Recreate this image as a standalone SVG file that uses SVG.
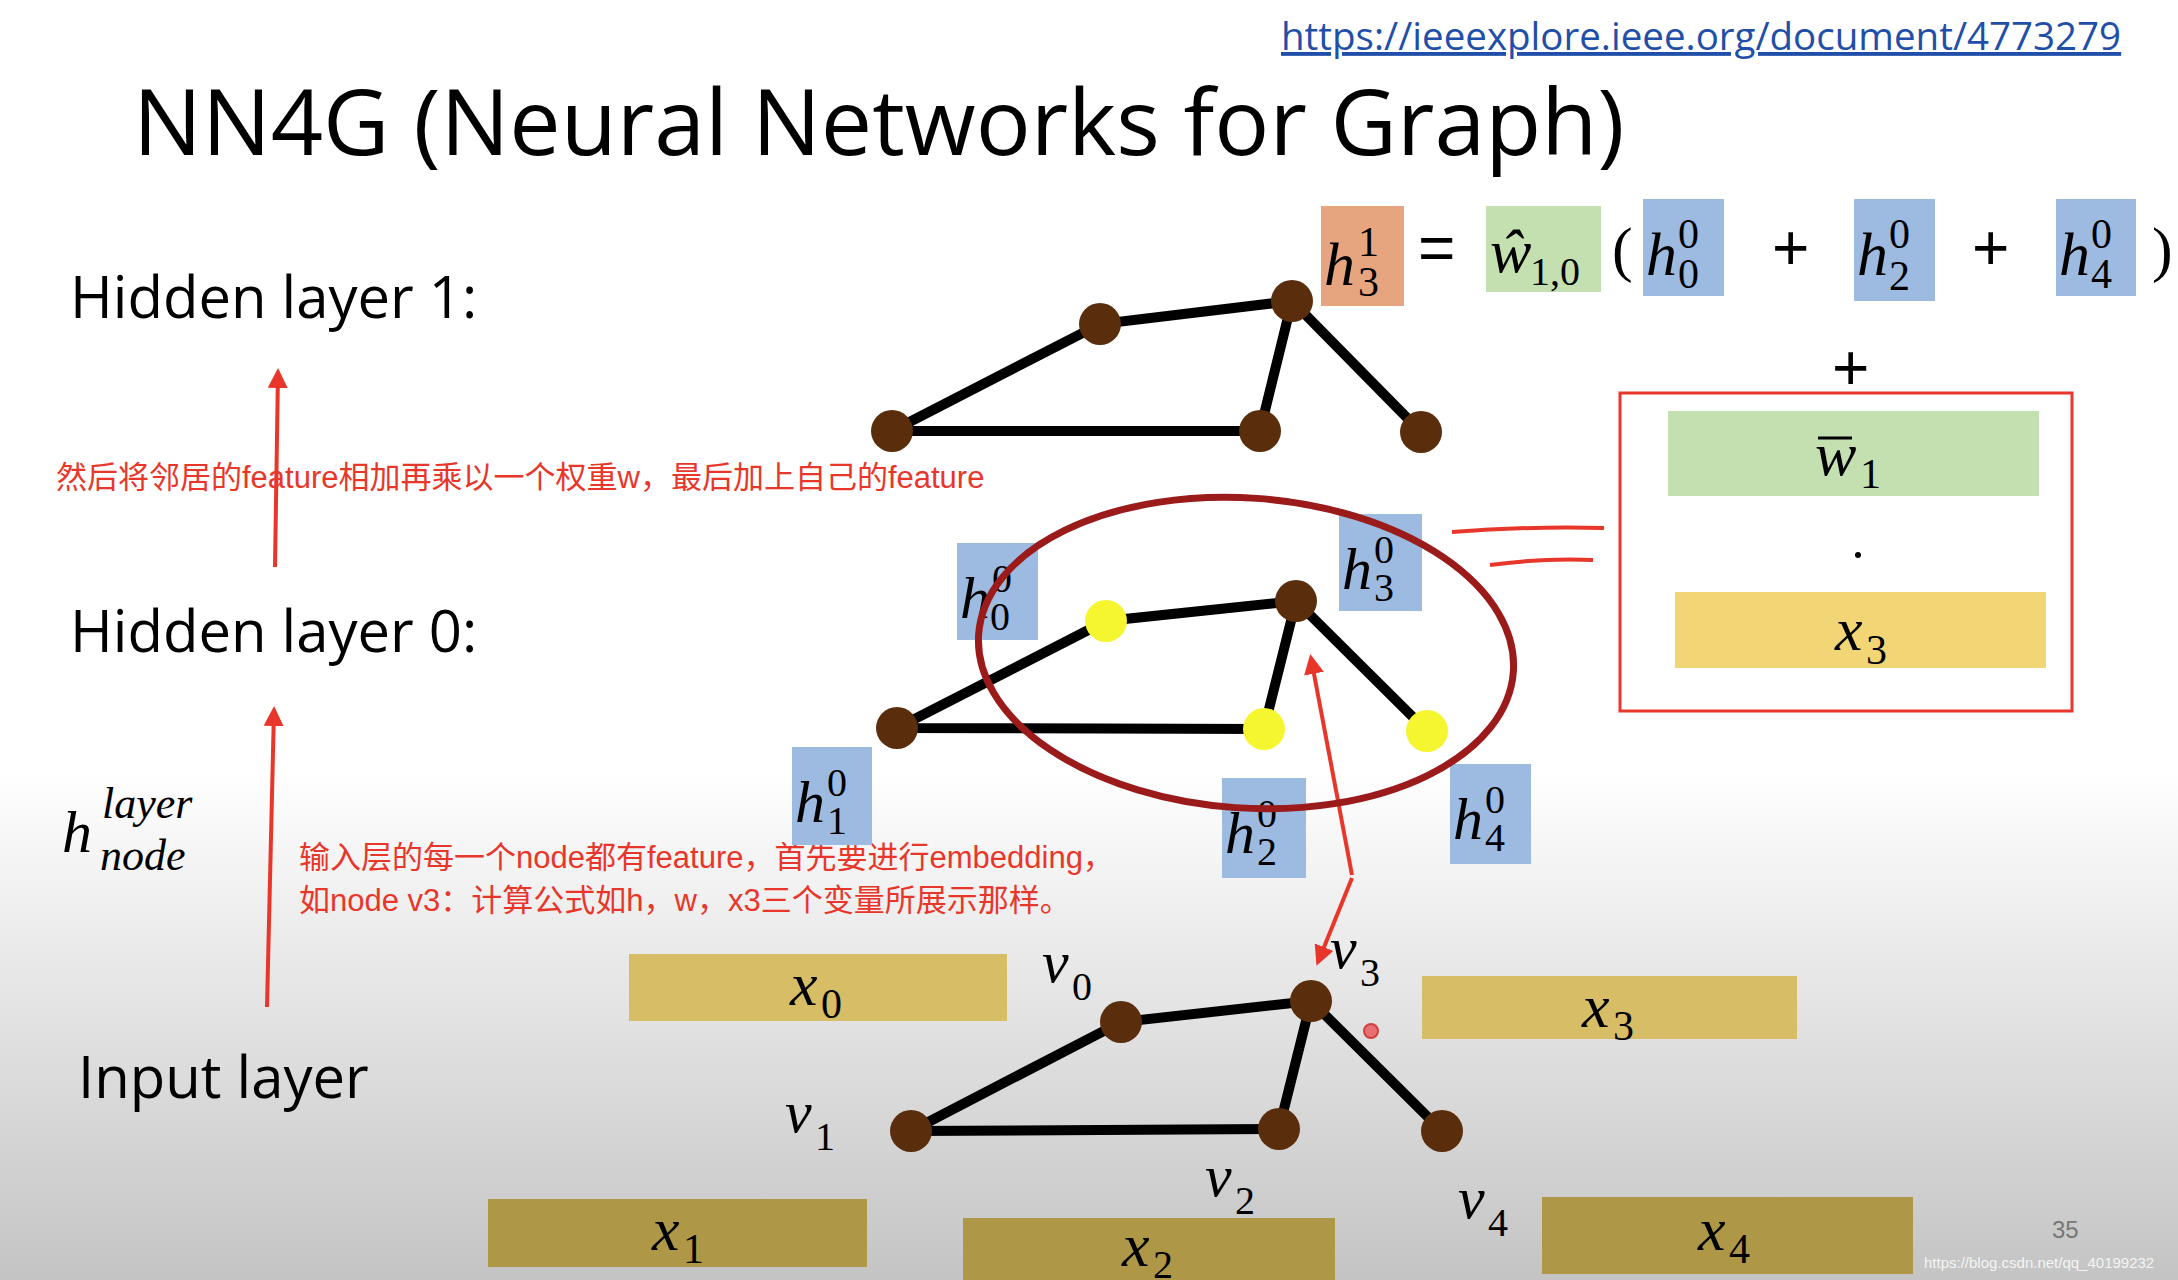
<svg xmlns="http://www.w3.org/2000/svg" width="2178" height="1280" viewBox="0 0 2178 1280">
<defs>
<linearGradient id="bg" x1="0" y1="0" x2="0" y2="1">
<stop offset="0" stop-color="#ffffff"/><stop offset="0.6" stop-color="#ffffff"/><stop offset="1" stop-color="#c4c4c4"/>
</linearGradient>
<marker id="ah" viewBox="0 0 10 10" refX="8" refY="5" markerWidth="5" markerHeight="5" orient="auto"><path d="M0,0L10,5L0,10z" fill="#e8372a"/></marker>
<style>
.lbl{font-family:"Open Sans","Liberation Sans",sans-serif;fill:#000}
.m{font-family:"Liberation Serif",serif;font-style:italic;fill:#000}
.d{font-family:"Liberation Serif",serif;fill:#000}
.red{font-family:"Liberation Sans","Noto Sans CJK SC",sans-serif;fill:#e8372a;font-size:31px}
.edge{stroke:#000;stroke-width:10;fill:none}
.nd{fill:#5a2d0c}
.yl{fill:#f5f530}
.blue{fill:#9dbbe0}
.arr{stroke:#e8372a;stroke-width:4;fill:none}
</style>
</defs>
<rect width="2178" height="1280" fill="url(#bg)"/>
<text x="1281" y="50" font-family="Open Sans,Liberation Sans,sans-serif" font-size="38.5" fill="#1f4fa8" text-decoration="underline">https://ieeexplore.ieee.org/document/4773279</text>
<text x="133" y="155" class="lbl" font-size="91.5">NN4G (Neural Networks for Graph)</text>
<text x="70" y="318" class="lbl" font-size="58">Hidden layer 1:</text>
<text x="70" y="652" class="lbl" font-size="58">Hidden layer 0:</text>
<text x="78" y="1098" class="lbl" font-size="58">Input layer</text>
<g id="hlayer"><text x="62" y="852" class="m" font-size="60">h</text><text x="102" y="818" class="m" font-size="44">layer</text><text x="100" y="870" class="m" font-size="44">node</text></g>
<g id="connectors">
<line x1="275" y1="567" x2="278" y2="372" class="arr" marker-end="url(#ah)"/>
<line x1="267" y1="1007" x2="274" y2="710" class="arr" marker-end="url(#ah)"/>
<line x1="1352" y1="875" x2="1311" y2="658" class="arr" marker-end="url(#ah)"/>
<line x1="1352" y1="878" x2="1318" y2="962" class="arr" marker-end="url(#ah)"/>
<path d="M1452,532 Q1530,526 1604,528" class="arr" stroke-width="3"/>
<path d="M1490,565 Q1540,558 1593,560" class="arr" stroke-width="3"/>
</g>
<text x="56" y="488" class="red">然后将邻居的feature相加再乘以一个权重w，最后加上自己的feature</text>
<text x="299" y="868" class="red">输入层的每一个node都有feature，首先要进行embedding，</text>
<text x="299" y="911" class="red">如node v3：计算公式如h，w，x3三个变量所展示那样。</text>
<g id="graph1">
<path d="M892,431 L1100,324 L1292,301 L1260,431 Z M892,431 L1260,431 M1292,301 L1421,432" class="edge"/>
<circle cx="892" cy="431" r="21" class="nd"/><circle cx="1100" cy="324" r="21" class="nd"/><circle cx="1292" cy="301" r="21" class="nd"/><circle cx="1260" cy="431" r="21" class="nd"/><circle cx="1421" cy="432" r="21" class="nd"/>
</g>
<g id="labels0">
<rect x="957" y="543" width="81" height="97" class="blue"/><text x="960" y="618" class="m" font-size="60">h</text><text x="992" y="592" class="d" font-size="40">0</text><text x="990" y="630" class="d" font-size="40">0</text>
<rect x="1339" y="514" width="83" height="97" class="blue"/><text x="1342" y="589" class="m" font-size="60">h</text><text x="1374" y="563" class="d" font-size="40">0</text><text x="1374" y="601" class="d" font-size="40">3</text>
<rect x="792" y="747" width="80" height="98" class="blue"/><text x="795" y="822" class="m" font-size="60">h</text><text x="827" y="796" class="d" font-size="40">0</text><text x="827" y="834" class="d" font-size="40">1</text>
<rect x="1222" y="778" width="84" height="100" class="blue"/><text x="1225" y="853" class="m" font-size="60">h</text><text x="1257" y="827" class="d" font-size="40">0</text><text x="1257" y="865" class="d" font-size="40">2</text>
<rect x="1450" y="764" width="81" height="100" class="blue"/><text x="1453" y="839" class="m" font-size="60">h</text><text x="1485" y="813" class="d" font-size="40">0</text><text x="1485" y="851" class="d" font-size="40">4</text>
</g>
<g id="graph0">
<path d="M897,728 L1106,621 L1296,601 L1264,729 Z M897,728 L1264,729 M1296,601 L1427,731" class="edge"/>
<circle cx="897" cy="728" r="21" class="nd"/><circle cx="1106" cy="621" r="21" class="yl"/><circle cx="1296" cy="601" r="21" class="nd"/><circle cx="1264" cy="729" r="21" class="yl"/><circle cx="1427" cy="731" r="21" class="yl"/>
</g>
<ellipse cx="1246" cy="653" rx="268" ry="155" transform="rotate(4 1246 653)" fill="none" stroke="#9b1b1b" stroke-width="7"/>
<g id="formula">
<rect x="1321" y="206" width="83" height="100" fill="#e6a47f"/><text x="1324" y="285" class="m" font-size="62">h</text><text x="1358" y="256" class="d" font-size="42">1</text><text x="1358" y="296" class="d" font-size="42">3</text>
<text x="1418" y="270" font-family="Liberation Sans,sans-serif" font-size="64">=</text>
<rect x="1486" y="206" width="115" height="86" fill="#c5e0b0"/><text x="1490" y="272" class="m" font-size="62">ŵ</text><text x="1530" y="285" class="d" font-size="40">1,0</text>
<text x="1612" y="270" font-family="Liberation Serif,serif" font-size="62">(</text>
<rect x="1643" y="199" width="81" height="97" class="blue"/><text x="1646" y="275" class="m" font-size="62">h</text><text x="1678" y="248" class="d" font-size="42">0</text><text x="1678" y="288" class="d" font-size="42">0</text>
<text x="1772" y="270" font-family="Liberation Sans,sans-serif" font-size="64">+</text>
<rect x="1854" y="199" width="81" height="102" class="blue"/><text x="1857" y="275" class="m" font-size="62">h</text><text x="1889" y="248" class="d" font-size="42">0</text><text x="1889" y="290" class="d" font-size="42">2</text>
<text x="1972" y="270" font-family="Liberation Sans,sans-serif" font-size="64">+</text>
<rect x="2056" y="199" width="80" height="97" class="blue"/><text x="2059" y="275" class="m" font-size="62">h</text><text x="2091" y="248" class="d" font-size="42">0</text><text x="2091" y="288" class="d" font-size="42">4</text>
<text x="2152" y="270" font-family="Liberation Serif,serif" font-size="62">)</text>
<text x="1832" y="390" font-family="Liberation Sans,sans-serif" font-size="64">+</text>
<rect x="1620" y="393" width="452" height="318" fill="none" stroke="#e8372a" stroke-width="3"/>
<rect x="1668" y="411" width="371" height="85" fill="#c5e0b0"/><text x="1815" y="475" class="m" font-size="62">w</text><line x1="1818" y1="438" x2="1852" y2="438" stroke="#000" stroke-width="3"/><text x="1860" y="488" class="d" font-size="42">1</text>
<circle cx="1858" cy="555" r="3" fill="#000"/>
<rect x="1675" y="592" width="371" height="76" fill="#f2d675"/><text x="1835" y="650" class="m" font-size="62">x</text><text x="1866" y="664" class="d" font-size="42">3</text>
</g>
<g id="inputs">
<rect x="629" y="954" width="378" height="67" fill="#d6bd66"/><text x="790" y="1005" class="m" font-size="62">x</text><text x="821" y="1018" class="d" font-size="42">0</text>
<rect x="1422" y="976" width="375" height="63" fill="#d6bd66"/><text x="1582" y="1027" class="m" font-size="62">x</text><text x="1613" y="1040" class="d" font-size="42">3</text>
<rect x="488" y="1199" width="379" height="68" fill="#ae9847"/><text x="652" y="1250" class="m" font-size="62">x</text><text x="683" y="1263" class="d" font-size="42">1</text>
<rect x="963" y="1218" width="372" height="62" fill="#ae9847"/><text x="1122" y="1266" class="m" font-size="62">x</text><text x="1153" y="1278" class="d" font-size="40">2</text>
<rect x="1542" y="1197" width="371" height="77" fill="#ae9847"/><text x="1698" y="1250" class="m" font-size="62">x</text><text x="1729" y="1263" class="d" font-size="42">4</text>
</g>
<g id="graphIn">
<path d="M911,1131 L1121,1022 L1311,1001 L1279,1129 Z M911,1131 L1279,1129 M1311,1001 L1442,1131" class="edge"/>
<circle cx="911" cy="1131" r="21" class="nd"/><circle cx="1121" cy="1022" r="21" class="nd"/><circle cx="1311" cy="1001" r="21" class="nd"/><circle cx="1279" cy="1129" r="21" class="nd"/><circle cx="1442" cy="1131" r="21" class="nd"/>
</g>
<g id="vlabels">
<text x="1042" y="982" class="m" font-size="60">v</text><text x="1072" y="1000" class="d" font-size="40">0</text>
<text x="1330" y="968" class="m" font-size="60">v</text><text x="1360" y="986" class="d" font-size="40">3</text>
<text x="785" y="1132" class="m" font-size="60">v</text><text x="815" y="1150" class="d" font-size="40">1</text>
<text x="1205" y="1196" class="m" font-size="60">v</text><text x="1235" y="1214" class="d" font-size="40">2</text>
<text x="1458" y="1218" class="m" font-size="60">v</text><text x="1488" y="1236" class="d" font-size="40">4</text>
</g>
<circle cx="1371" cy="1031" r="7" fill="#e87070" stroke="#d04040" stroke-width="2"/>
<text x="2052" y="1238" font-family="Liberation Sans,sans-serif" font-size="24" fill="#777">35</text>
<text x="1924" y="1268" font-family="Liberation Sans,sans-serif" font-size="15" fill="#f4f4f4">https://blog.csdn.net/qq_40199232</text>
</svg>
